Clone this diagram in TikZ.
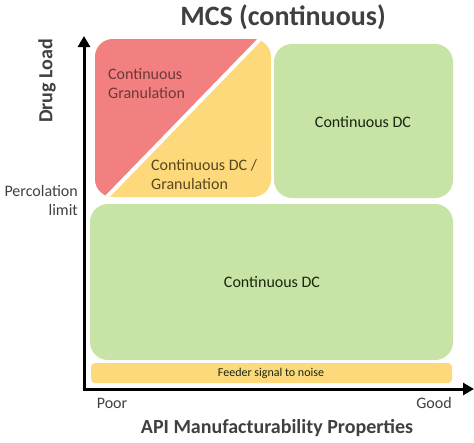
\documentclass[tikz,border=0pt]{standalone}
\usepackage{fontspec}
\setmainfont{Carlito}
\usetikzlibrary{arrows.meta}
\definecolor{redfill}{RGB}{243,128,128}
\definecolor{yelfill}{RGB}{253,217,124}
\definecolor{grnfill}{RGB}{199,228,166}
\definecolor{titlegray}{RGB}{64,64,64}
\definecolor{redtext}{RGB}{110,56,56}
\definecolor{yeltext}{RGB}{85,72,30}
\definecolor{grntext}{RGB}{25,38,15}
\tikzset{
  region/.style={rounded corners=18pt},
  axis/.style={line width=3pt,-{Triangle[length=11pt,width=12pt]}},
  boxtext/.style={font=\fontsize{16}{19}\selectfont, align=left, inner sep=0pt},
  labeltext/.style={font=\fontsize{16}{19}\selectfont, text=titlegray, inner sep=0pt}
}
\begin{document}
\begin{tikzpicture}[x=1pt,y=-1pt]
\useasboundingbox (0,0) rectangle (474,442);
\fill[white] (0,0) rectangle (474,442);
% title
\node[font=\bfseries\fontsize{28}{32}\selectfont, text=titlegray, inner sep=0pt] (title) at (283,17) {MCS (continuous)};
% split region
\begin{scope}
  \clip[region] (95,39) rectangle (271,197);
  \fill[yelfill] (90,30) rectangle (280,205);
  \fill[redfill] (90,30) -- (266,30) -- (101,201) -- (90,201) -- cycle;
  \draw[white, line width=4pt] (266,33) -- (101,203);
\end{scope}
\node[boxtext, text=redtext, anchor=west] (cg) at (108,84) {Continuous\\Granulation};
\node[boxtext, text=yeltext, anchor=west] (cdg) at (151,175) {Continuous DC /\\Granulation};
% green top right
\fill[grnfill, region] (274,44) rectangle (453,198);
\node[boxtext, text=grntext] (dc1) at (363,122) {Continuous DC};
% green big
\fill[grnfill, region] (90,204) rectangle (453,360);
\node[boxtext, text=grntext] (dc2) at (272,282) {Continuous DC};
% feeder bar
\fill[yelfill, rounded corners=4pt] (91,363) rectangle (452,383);
\node[font=\fontsize{12}{14}\selectfont, text=grntext, inner sep=0pt] (feed) at (271,373) {Feeder signal to noise};
% axes
\coordinate (origin) at (84,389);
\coordinate (ytip) at (84,36);
\coordinate (xtip) at (474,389);
\draw[axis] ([yshift=1.5pt]origin) -- (ytip);
\draw[axis] ([xshift=-1.5pt]origin) -- (xtip);
% axis labels
\node[font=\bfseries\fontsize{20}{24}\selectfont, text=titlegray, rotate=90, inner sep=0pt] (ylab) at (47,81) {Drug Load};
\node[labeltext, align=right, anchor=east] (perc) at (78,201) {Percolation\\limit};
\node[labeltext] (poor) at (112,403) {Poor};
\node[labeltext] (good) at (434,403) {Good};
\node[font=\bfseries\fontsize{20}{24}\selectfont, text=titlegray, inner sep=0pt] (xlab) at (277,428) {API Manufacturability Properties};
\end{tikzpicture}
\end{document}
